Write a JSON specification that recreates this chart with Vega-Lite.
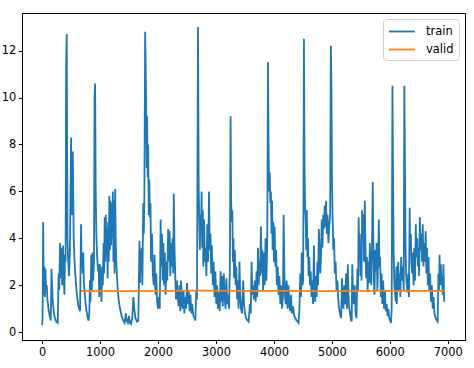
{
"$schema": "https://vega.github.io/schema/vega-lite/v6.json",
"autosize": "none",
"width": 443, "height": 327,
"padding": {"left": 22, "top": 13, "right": 9, "bottom": 28},
"background": "white",
"config": {
  "font": "DejaVu Sans",
  "view": {"stroke": "black", "strokeWidth": 1},
  "axis": {"grid": false, "domainColor": "black", "domainWidth": 1, "tickColor": "black", "tickSize": 3.6, "tickWidth": 1, "labelColor": "black", "labelFontSize": 11.4, "labelPadding": 2.6, "title": null, "labelFont": "DejaVu Sans"},
  "legend": {"labelFont": "DejaVu Sans"}
},
"data": {"values": [
{"step":0,"loss":0.3,"series":"train"},{"step":8,"loss":0.6,"series":"train"},{"step":18,"loss":4.7,"series":"train"},{"step":28,"loss":1.6,"series":"train"},{"step":38,"loss":2.8,"series":"train"},{"step":48,"loss":1.5,"series":"train"},{"step":58,"loss":2.7,"series":"train"},{"step":68,"loss":1.8,"series":"train"},{"step":80,"loss":2.0,"series":"train"},{"step":92,"loss":1.4,"series":"train"},{"step":110,"loss":1.0,"series":"train"},{"step":130,"loss":0.7,"series":"train"},{"step":150,"loss":0.5,"series":"train"},{"step":162,"loss":2.7,"series":"train"},{"step":172,"loss":2.0,"series":"train"},{"step":185,"loss":1.3,"series":"train"},{"step":200,"loss":0.9,"series":"train"},{"step":220,"loss":0.6,"series":"train"},{"step":245,"loss":0.45,"series":"train"},{"step":270,"loss":0.4,"series":"train"},{"step":285,"loss":2.5,"series":"train"},{"step":295,"loss":1.8,"series":"train"},{"step":310,"loss":3.8,"series":"train"},{"step":322,"loss":2.3,"series":"train"},{"step":335,"loss":3.6,"series":"train"},{"step":345,"loss":2.0,"series":"train"},{"step":360,"loss":3.7,"series":"train"},{"step":372,"loss":2.4,"series":"train"},{"step":385,"loss":1.6,"series":"train"},{"step":395,"loss":3.3,"series":"train"},{"step":405,"loss":3.0,"series":"train"},{"step":415,"loss":11.4,"series":"train"},{"step":425,"loss":12.7,"series":"train"},{"step":438,"loss":4.0,"series":"train"},{"step":450,"loss":3.0,"series":"train"},{"step":465,"loss":2.4,"series":"train"},{"step":480,"loss":3.5,"series":"train"},{"step":500,"loss":8.3,"series":"train"},{"step":512,"loss":5.0,"series":"train"},{"step":530,"loss":7.7,"series":"train"},{"step":545,"loss":4.0,"series":"train"},{"step":560,"loss":3.0,"series":"train"},{"step":580,"loss":2.2,"series":"train"},{"step":600,"loss":1.6,"series":"train"},{"step":620,"loss":1.2,"series":"train"},{"step":640,"loss":1.0,"series":"train"},{"step":655,"loss":0.9,"series":"train"},{"step":672,"loss":4.6,"series":"train"},{"step":682,"loss":2.8,"series":"train"},{"step":692,"loss":3.3,"series":"train"},{"step":700,"loss":2.5,"series":"train"},{"step":710,"loss":3.4,"series":"train"},{"step":720,"loss":2.2,"series":"train"},{"step":740,"loss":1.5,"series":"train"},{"step":760,"loss":1.0,"series":"train"},{"step":780,"loss":0.7,"series":"train"},{"step":800,"loss":0.5,"series":"train"},{"step":815,"loss":0.8,"series":"train"},{"step":825,"loss":2.2,"series":"train"},{"step":835,"loss":1.3,"series":"train"},{"step":848,"loss":3.3,"series":"train"},{"step":858,"loss":1.8,"series":"train"},{"step":870,"loss":3.4,"series":"train"},{"step":880,"loss":2.2,"series":"train"},{"step":895,"loss":3.0,"series":"train"},{"step":905,"loss":10.0,"series":"train"},{"step":915,"loss":10.6,"series":"train"},{"step":925,"loss":6.0,"series":"train"},{"step":935,"loss":4.2,"series":"train"},{"step":950,"loss":3.2,"series":"train"},{"step":965,"loss":2.6,"series":"train"},{"step":975,"loss":2.9,"series":"train"},{"step":985,"loss":1.5,"series":"train"},{"step":995,"loss":2.9,"series":"train"},{"step":1010,"loss":2.3,"series":"train"},{"step":1025,"loss":1.3,"series":"train"},{"step":1035,"loss":2.8,"series":"train"},{"step":1048,"loss":2.0,"series":"train"},{"step":1060,"loss":3.8,"series":"train"},{"step":1070,"loss":2.5,"series":"train"},{"step":1080,"loss":4.9,"series":"train"},{"step":1090,"loss":3.0,"series":"train"},{"step":1100,"loss":5.0,"series":"train"},{"step":1110,"loss":3.2,"series":"train"},{"step":1120,"loss":4.4,"series":"train"},{"step":1130,"loss":2.3,"series":"train"},{"step":1140,"loss":4.7,"series":"train"},{"step":1150,"loss":3.0,"series":"train"},{"step":1160,"loss":5.8,"series":"train"},{"step":1170,"loss":3.5,"series":"train"},{"step":1180,"loss":5.6,"series":"train"},{"step":1190,"loss":3.7,"series":"train"},{"step":1200,"loss":5.5,"series":"train"},{"step":1210,"loss":4.0,"series":"train"},{"step":1220,"loss":6.0,"series":"train"},{"step":1230,"loss":3.0,"series":"train"},{"step":1240,"loss":5.6,"series":"train"},{"step":1250,"loss":2.5,"series":"train"},{"step":1260,"loss":6.1,"series":"train"},{"step":1270,"loss":4.0,"series":"train"},{"step":1280,"loss":3.0,"series":"train"},{"step":1300,"loss":2.0,"series":"train"},{"step":1320,"loss":1.4,"series":"train"},{"step":1345,"loss":1.0,"series":"train"},{"step":1370,"loss":0.7,"series":"train"},{"step":1400,"loss":0.5,"series":"train"},{"step":1425,"loss":0.4,"series":"train"},{"step":1445,"loss":0.8,"series":"train"},{"step":1460,"loss":0.5,"series":"train"},{"step":1480,"loss":0.4,"series":"train"},{"step":1500,"loss":0.7,"series":"train"},{"step":1515,"loss":0.4,"series":"train"},{"step":1535,"loss":0.35,"series":"train"},{"step":1555,"loss":0.6,"series":"train"},{"step":1575,"loss":1.5,"series":"train"},{"step":1590,"loss":1.0,"series":"train"},{"step":1610,"loss":0.6,"series":"train"},{"step":1640,"loss":0.45,"series":"train"},{"step":1660,"loss":0.5,"series":"train"},{"step":1680,"loss":3.9,"series":"train"},{"step":1690,"loss":2.1,"series":"train"},{"step":1700,"loss":3.5,"series":"train"},{"step":1710,"loss":2.6,"series":"train"},{"step":1720,"loss":3.6,"series":"train"},{"step":1730,"loss":2.0,"series":"train"},{"step":1745,"loss":5.5,"series":"train"},{"step":1755,"loss":4.2,"series":"train"},{"step":1765,"loss":6.0,"series":"train"},{"step":1778,"loss":12.8,"series":"train"},{"step":1788,"loss":11.2,"series":"train"},{"step":1795,"loss":9.7,"series":"train"},{"step":1805,"loss":7.0,"series":"train"},{"step":1812,"loss":9.2,"series":"train"},{"step":1822,"loss":6.6,"series":"train"},{"step":1830,"loss":8.0,"series":"train"},{"step":1840,"loss":5.0,"series":"train"},{"step":1850,"loss":6.5,"series":"train"},{"step":1860,"loss":4.9,"series":"train"},{"step":1870,"loss":5.5,"series":"train"},{"step":1880,"loss":3.0,"series":"train"},{"step":1895,"loss":4.2,"series":"train"},{"step":1910,"loss":2.5,"series":"train"},{"step":1925,"loss":2.0,"series":"train"},{"step":1940,"loss":3.3,"series":"train"},{"step":1955,"loss":1.6,"series":"train"},{"step":1970,"loss":2.5,"series":"train"},{"step":1985,"loss":1.3,"series":"train"},{"step":2000,"loss":1.0,"series":"train"},{"step":2015,"loss":1.5,"series":"train"},{"step":2030,"loss":1.0,"series":"train"},{"step":2045,"loss":4.8,"series":"train"},{"step":2055,"loss":2.8,"series":"train"},{"step":2068,"loss":4.2,"series":"train"},{"step":2080,"loss":2.2,"series":"train"},{"step":2092,"loss":3.8,"series":"train"},{"step":2105,"loss":2.0,"series":"train"},{"step":2118,"loss":3.4,"series":"train"},{"step":2130,"loss":1.6,"series":"train"},{"step":2145,"loss":3.0,"series":"train"},{"step":2160,"loss":2.2,"series":"train"},{"step":2175,"loss":4.4,"series":"train"},{"step":2188,"loss":3.0,"series":"train"},{"step":2200,"loss":4.3,"series":"train"},{"step":2212,"loss":2.4,"series":"train"},{"step":2225,"loss":3.8,"series":"train"},{"step":2238,"loss":2.8,"series":"train"},{"step":2250,"loss":4.0,"series":"train"},{"step":2262,"loss":2.5,"series":"train"},{"step":2272,"loss":5.9,"series":"train"},{"step":2285,"loss":3.5,"series":"train"},{"step":2298,"loss":2.4,"series":"train"},{"step":2310,"loss":1.4,"series":"train"},{"step":2325,"loss":2.2,"series":"train"},{"step":2340,"loss":1.5,"series":"train"},{"step":2355,"loss":1.1,"series":"train"},{"step":2370,"loss":2.0,"series":"train"},{"step":2385,"loss":0.9,"series":"train"},{"step":2398,"loss":2.2,"series":"train"},{"step":2410,"loss":1.3,"series":"train"},{"step":2425,"loss":1.0,"series":"train"},{"step":2440,"loss":1.8,"series":"train"},{"step":2455,"loss":0.8,"series":"train"},{"step":2470,"loss":1.5,"series":"train"},{"step":2485,"loss":1.0,"series":"train"},{"step":2500,"loss":2.1,"series":"train"},{"step":2515,"loss":1.2,"series":"train"},{"step":2530,"loss":1.8,"series":"train"},{"step":2545,"loss":0.9,"series":"train"},{"step":2560,"loss":1.6,"series":"train"},{"step":2575,"loss":0.8,"series":"train"},{"step":2590,"loss":1.2,"series":"train"},{"step":2610,"loss":0.7,"series":"train"},{"step":2630,"loss":0.6,"series":"train"},{"step":2645,"loss":0.5,"series":"train"},{"step":2660,"loss":1.8,"series":"train"},{"step":2672,"loss":1.4,"series":"train"},{"step":2690,"loss":13.0,"series":"train"},{"step":2702,"loss":6.0,"series":"train"},{"step":2712,"loss":4.8,"series":"train"},{"step":2722,"loss":3.5,"series":"train"},{"step":2732,"loss":5.0,"series":"train"},{"step":2742,"loss":4.3,"series":"train"},{"step":2752,"loss":6.0,"series":"train"},{"step":2762,"loss":3.6,"series":"train"},{"step":2772,"loss":5.2,"series":"train"},{"step":2782,"loss":2.8,"series":"train"},{"step":2795,"loss":4.8,"series":"train"},{"step":2808,"loss":3.0,"series":"train"},{"step":2820,"loss":3.6,"series":"train"},{"step":2835,"loss":2.4,"series":"train"},{"step":2850,"loss":4.6,"series":"train"},{"step":2865,"loss":3.0,"series":"train"},{"step":2880,"loss":6.0,"series":"train"},{"step":2892,"loss":3.5,"series":"train"},{"step":2905,"loss":4.2,"series":"train"},{"step":2918,"loss":2.5,"series":"train"},{"step":2930,"loss":3.7,"series":"train"},{"step":2945,"loss":2.0,"series":"train"},{"step":2960,"loss":3.0,"series":"train"},{"step":2975,"loss":1.5,"series":"train"},{"step":2990,"loss":2.6,"series":"train"},{"step":3005,"loss":1.2,"series":"train"},{"step":3020,"loss":2.0,"series":"train"},{"step":3035,"loss":1.0,"series":"train"},{"step":3050,"loss":1.7,"series":"train"},{"step":3065,"loss":0.9,"series":"train"},{"step":3080,"loss":2.6,"series":"train"},{"step":3092,"loss":1.3,"series":"train"},{"step":3105,"loss":2.4,"series":"train"},{"step":3118,"loss":1.1,"series":"train"},{"step":3135,"loss":2.5,"series":"train"},{"step":3150,"loss":1.5,"series":"train"},{"step":3165,"loss":1.0,"series":"train"},{"step":3180,"loss":2.3,"series":"train"},{"step":3195,"loss":1.2,"series":"train"},{"step":3210,"loss":1.6,"series":"train"},{"step":3225,"loss":1.0,"series":"train"},{"step":3240,"loss":2.8,"series":"train"},{"step":3252,"loss":9.2,"series":"train"},{"step":3262,"loss":5.6,"series":"train"},{"step":3272,"loss":4.7,"series":"train"},{"step":3282,"loss":5.2,"series":"train"},{"step":3292,"loss":3.0,"series":"train"},{"step":3302,"loss":4.0,"series":"train"},{"step":3312,"loss":2.3,"series":"train"},{"step":3325,"loss":3.5,"series":"train"},{"step":3338,"loss":2.0,"series":"train"},{"step":3350,"loss":2.8,"series":"train"},{"step":3365,"loss":1.4,"series":"train"},{"step":3378,"loss":2.2,"series":"train"},{"step":3390,"loss":1.0,"series":"train"},{"step":3405,"loss":3.0,"series":"train"},{"step":3418,"loss":1.6,"series":"train"},{"step":3432,"loss":1.0,"series":"train"},{"step":3450,"loss":0.8,"series":"train"},{"step":3470,"loss":2.2,"series":"train"},{"step":3485,"loss":1.2,"series":"train"},{"step":3500,"loss":0.8,"series":"train"},{"step":3520,"loss":0.6,"series":"train"},{"step":3545,"loss":0.5,"series":"train"},{"step":3565,"loss":0.45,"series":"train"},{"step":3585,"loss":1.2,"series":"train"},{"step":3600,"loss":0.8,"series":"train"},{"step":3615,"loss":3.0,"series":"train"},{"step":3628,"loss":1.6,"series":"train"},{"step":3640,"loss":2.0,"series":"train"},{"step":3655,"loss":1.4,"series":"train"},{"step":3670,"loss":2.2,"series":"train"},{"step":3685,"loss":1.3,"series":"train"},{"step":3700,"loss":2.6,"series":"train"},{"step":3712,"loss":1.5,"series":"train"},{"step":3725,"loss":3.6,"series":"train"},{"step":3738,"loss":2.0,"series":"train"},{"step":3750,"loss":3.0,"series":"train"},{"step":3762,"loss":2.4,"series":"train"},{"step":3775,"loss":4.5,"series":"train"},{"step":3788,"loss":2.5,"series":"train"},{"step":3800,"loss":3.5,"series":"train"},{"step":3812,"loss":1.8,"series":"train"},{"step":3825,"loss":3.4,"series":"train"},{"step":3840,"loss":2.0,"series":"train"},{"step":3855,"loss":4.0,"series":"train"},{"step":3870,"loss":2.2,"series":"train"},{"step":3885,"loss":3.8,"series":"train"},{"step":3898,"loss":11.5,"series":"train"},{"step":3908,"loss":7.7,"series":"train"},{"step":3918,"loss":6.0,"series":"train"},{"step":3928,"loss":6.8,"series":"train"},{"step":3938,"loss":5.5,"series":"train"},{"step":3948,"loss":6.0,"series":"train"},{"step":3958,"loss":4.2,"series":"train"},{"step":3968,"loss":5.6,"series":"train"},{"step":3978,"loss":3.5,"series":"train"},{"step":3990,"loss":4.7,"series":"train"},{"step":4000,"loss":3.0,"series":"train"},{"step":4012,"loss":4.5,"series":"train"},{"step":4025,"loss":2.8,"series":"train"},{"step":4038,"loss":3.5,"series":"train"},{"step":4050,"loss":2.0,"series":"train"},{"step":4065,"loss":2.8,"series":"train"},{"step":4080,"loss":1.6,"series":"train"},{"step":4095,"loss":2.4,"series":"train"},{"step":4110,"loss":1.2,"series":"train"},{"step":4125,"loss":2.0,"series":"train"},{"step":4140,"loss":1.0,"series":"train"},{"step":4155,"loss":1.5,"series":"train"},{"step":4168,"loss":5.0,"series":"train"},{"step":4180,"loss":2.6,"series":"train"},{"step":4192,"loss":1.5,"series":"train"},{"step":4205,"loss":1.2,"series":"train"},{"step":4220,"loss":2.2,"series":"train"},{"step":4235,"loss":1.0,"series":"train"},{"step":4250,"loss":2.0,"series":"train"},{"step":4265,"loss":1.2,"series":"train"},{"step":4280,"loss":0.9,"series":"train"},{"step":4295,"loss":1.6,"series":"train"},{"step":4310,"loss":0.8,"series":"train"},{"step":4330,"loss":1.1,"series":"train"},{"step":4350,"loss":0.7,"series":"train"},{"step":4370,"loss":0.6,"series":"train"},{"step":4390,"loss":0.5,"series":"train"},{"step":4410,"loss":0.45,"series":"train"},{"step":4425,"loss":0.4,"series":"train"},{"step":4440,"loss":1.0,"series":"train"},{"step":4455,"loss":2.5,"series":"train"},{"step":4468,"loss":1.5,"series":"train"},{"step":4480,"loss":3.4,"series":"train"},{"step":4492,"loss":2.0,"series":"train"},{"step":4505,"loss":2.2,"series":"train"},{"step":4518,"loss":12.5,"series":"train"},{"step":4528,"loss":7.0,"series":"train"},{"step":4538,"loss":5.3,"series":"train"},{"step":4548,"loss":4.8,"series":"train"},{"step":4558,"loss":3.5,"series":"train"},{"step":4568,"loss":5.2,"series":"train"},{"step":4578,"loss":3.2,"series":"train"},{"step":4588,"loss":4.0,"series":"train"},{"step":4598,"loss":2.4,"series":"train"},{"step":4610,"loss":3.2,"series":"train"},{"step":4622,"loss":2.0,"series":"train"},{"step":4635,"loss":2.6,"series":"train"},{"step":4648,"loss":1.5,"series":"train"},{"step":4660,"loss":2.2,"series":"train"},{"step":4675,"loss":1.2,"series":"train"},{"step":4690,"loss":3.7,"series":"train"},{"step":4700,"loss":1.8,"series":"train"},{"step":4712,"loss":1.3,"series":"train"},{"step":4725,"loss":2.4,"series":"train"},{"step":4738,"loss":1.5,"series":"train"},{"step":4750,"loss":3.0,"series":"train"},{"step":4762,"loss":2.0,"series":"train"},{"step":4775,"loss":4.4,"series":"train"},{"step":4788,"loss":3.5,"series":"train"},{"step":4800,"loss":2.5,"series":"train"},{"step":4812,"loss":3.2,"series":"train"},{"step":4825,"loss":4.8,"series":"train"},{"step":4838,"loss":3.6,"series":"train"},{"step":4850,"loss":5.0,"series":"train"},{"step":4862,"loss":4.4,"series":"train"},{"step":4875,"loss":5.4,"series":"train"},{"step":4888,"loss":4.5,"series":"train"},{"step":4900,"loss":5.6,"series":"train"},{"step":4912,"loss":4.2,"series":"train"},{"step":4925,"loss":5.0,"series":"train"},{"step":4940,"loss":3.8,"series":"train"},{"step":4955,"loss":4.5,"series":"train"},{"step":4970,"loss":5.0,"series":"train"},{"step":4982,"loss":12.2,"series":"train"},{"step":4992,"loss":10.5,"series":"train"},{"step":5002,"loss":6.5,"series":"train"},{"step":5012,"loss":5.0,"series":"train"},{"step":5025,"loss":3.5,"series":"train"},{"step":5038,"loss":4.0,"series":"train"},{"step":5050,"loss":2.5,"series":"train"},{"step":5065,"loss":3.0,"series":"train"},{"step":5080,"loss":1.8,"series":"train"},{"step":5095,"loss":2.2,"series":"train"},{"step":5110,"loss":1.4,"series":"train"},{"step":5125,"loss":1.0,"series":"train"},{"step":5140,"loss":0.8,"series":"train"},{"step":5160,"loss":0.6,"series":"train"},{"step":5175,"loss":2.3,"series":"train"},{"step":5188,"loss":1.3,"series":"train"},{"step":5200,"loss":1.0,"series":"train"},{"step":5215,"loss":2.0,"series":"train"},{"step":5230,"loss":1.2,"series":"train"},{"step":5245,"loss":2.5,"series":"train"},{"step":5260,"loss":1.0,"series":"train"},{"step":5275,"loss":2.9,"series":"train"},{"step":5288,"loss":1.5,"series":"train"},{"step":5300,"loss":1.0,"series":"train"},{"step":5315,"loss":0.8,"series":"train"},{"step":5330,"loss":0.5,"series":"train"},{"step":5342,"loss":0.5,"series":"train"},{"step":5352,"loss":2.9,"series":"train"},{"step":5365,"loss":1.6,"series":"train"},{"step":5380,"loss":1.2,"series":"train"},{"step":5395,"loss":2.0,"series":"train"},{"step":5410,"loss":0.8,"series":"train"},{"step":5425,"loss":0.6,"series":"train"},{"step":5440,"loss":2.7,"series":"train"},{"step":5452,"loss":1.8,"series":"train"},{"step":5462,"loss":4.9,"series":"train"},{"step":5472,"loss":3.2,"series":"train"},{"step":5482,"loss":4.2,"series":"train"},{"step":5492,"loss":2.4,"series":"train"},{"step":5502,"loss":3.5,"series":"train"},{"step":5512,"loss":2.2,"series":"train"},{"step":5522,"loss":5.2,"series":"train"},{"step":5532,"loss":4.0,"series":"train"},{"step":5545,"loss":5.0,"series":"train"},{"step":5555,"loss":3.0,"series":"train"},{"step":5568,"loss":5.6,"series":"train"},{"step":5580,"loss":3.5,"series":"train"},{"step":5592,"loss":2.3,"series":"train"},{"step":5605,"loss":3.2,"series":"train"},{"step":5618,"loss":1.7,"series":"train"},{"step":5630,"loss":3.0,"series":"train"},{"step":5642,"loss":2.1,"series":"train"},{"step":5655,"loss":3.8,"series":"train"},{"step":5668,"loss":2.4,"series":"train"},{"step":5680,"loss":2.0,"series":"train"},{"step":5692,"loss":3.6,"series":"train"},{"step":5705,"loss":6.4,"series":"train"},{"step":5715,"loss":4.0,"series":"train"},{"step":5725,"loss":2.2,"series":"train"},{"step":5735,"loss":1.6,"series":"train"},{"step":5748,"loss":3.5,"series":"train"},{"step":5760,"loss":2.6,"series":"train"},{"step":5772,"loss":3.8,"series":"train"},{"step":5785,"loss":1.8,"series":"train"},{"step":5798,"loss":3.0,"series":"train"},{"step":5810,"loss":4.8,"series":"train"},{"step":5820,"loss":2.8,"series":"train"},{"step":5832,"loss":3.2,"series":"train"},{"step":5845,"loss":1.5,"series":"train"},{"step":5858,"loss":2.5,"series":"train"},{"step":5870,"loss":1.2,"series":"train"},{"step":5885,"loss":2.2,"series":"train"},{"step":5900,"loss":1.0,"series":"train"},{"step":5915,"loss":1.8,"series":"train"},{"step":5930,"loss":0.9,"series":"train"},{"step":5945,"loss":1.2,"series":"train"},{"step":5960,"loss":0.7,"series":"train"},{"step":5975,"loss":1.0,"series":"train"},{"step":5990,"loss":0.6,"series":"train"},{"step":6005,"loss":0.5,"series":"train"},{"step":6020,"loss":0.4,"series":"train"},{"step":6032,"loss":1.0,"series":"train"},{"step":6045,"loss":10.5,"series":"train"},{"step":6055,"loss":7.0,"series":"train"},{"step":6065,"loss":3.5,"series":"train"},{"step":6078,"loss":2.0,"series":"train"},{"step":6090,"loss":1.7,"series":"train"},{"step":6102,"loss":1.3,"series":"train"},{"step":6112,"loss":2.8,"series":"train"},{"step":6120,"loss":1.2,"series":"train"},{"step":6132,"loss":2.4,"series":"train"},{"step":6145,"loss":3.0,"series":"train"},{"step":6158,"loss":1.8,"series":"train"},{"step":6170,"loss":2.5,"series":"train"},{"step":6182,"loss":1.5,"series":"train"},{"step":6195,"loss":3.2,"series":"train"},{"step":6210,"loss":2.2,"series":"train"},{"step":6225,"loss":2.8,"series":"train"},{"step":6240,"loss":1.8,"series":"train"},{"step":6250,"loss":10.5,"series":"train"},{"step":6260,"loss":7.5,"series":"train"},{"step":6270,"loss":4.0,"series":"train"},{"step":6280,"loss":2.5,"series":"train"},{"step":6292,"loss":2.0,"series":"train"},{"step":6305,"loss":1.7,"series":"train"},{"step":6318,"loss":2.5,"series":"train"},{"step":6330,"loss":1.5,"series":"train"},{"step":6342,"loss":5.3,"series":"train"},{"step":6352,"loss":3.5,"series":"train"},{"step":6362,"loss":4.2,"series":"train"},{"step":6372,"loss":3.0,"series":"train"},{"step":6385,"loss":2.5,"series":"train"},{"step":6398,"loss":3.4,"series":"train"},{"step":6410,"loss":2.0,"series":"train"},{"step":6422,"loss":3.6,"series":"train"},{"step":6435,"loss":2.2,"series":"train"},{"step":6448,"loss":4.6,"series":"train"},{"step":6460,"loss":3.2,"series":"train"},{"step":6472,"loss":4.0,"series":"train"},{"step":6485,"loss":2.8,"series":"train"},{"step":6495,"loss":3.6,"series":"train"},{"step":6505,"loss":2.4,"series":"train"},{"step":6518,"loss":4.9,"series":"train"},{"step":6530,"loss":3.5,"series":"train"},{"step":6542,"loss":4.2,"series":"train"},{"step":6555,"loss":3.0,"series":"train"},{"step":6568,"loss":4.6,"series":"train"},{"step":6580,"loss":2.8,"series":"train"},{"step":6592,"loss":3.8,"series":"train"},{"step":6605,"loss":3.0,"series":"train"},{"step":6618,"loss":4.3,"series":"train"},{"step":6630,"loss":2.5,"series":"train"},{"step":6642,"loss":3.6,"series":"train"},{"step":6655,"loss":2.0,"series":"train"},{"step":6668,"loss":3.2,"series":"train"},{"step":6680,"loss":1.8,"series":"train"},{"step":6695,"loss":2.5,"series":"train"},{"step":6710,"loss":1.3,"series":"train"},{"step":6725,"loss":2.0,"series":"train"},{"step":6740,"loss":1.0,"series":"train"},{"step":6755,"loss":1.5,"series":"train"},{"step":6770,"loss":0.8,"series":"train"},{"step":6790,"loss":0.6,"series":"train"},{"step":6810,"loss":0.5,"series":"train"},{"step":6825,"loss":0.45,"series":"train"},{"step":6838,"loss":2.5,"series":"train"},{"step":6848,"loss":1.8,"series":"train"},{"step":6858,"loss":3.3,"series":"train"},{"step":6868,"loss":2.0,"series":"train"},{"step":6880,"loss":2.9,"series":"train"},{"step":6890,"loss":2.0,"series":"train"},{"step":6900,"loss":2.4,"series":"train"},{"step":6912,"loss":1.6,"series":"train"},{"step":6925,"loss":2.9,"series":"train"},{"step":6938,"loss":1.3,"series":"train"},
{"step":670,"loss":1.76,"series":"valid"},{"step":1380,"loss":1.75,"series":"valid"},{"step":2070,"loss":1.76,"series":"valid"},{"step":2760,"loss":1.77,"series":"valid"},{"step":3450,"loss":1.76,"series":"valid"},{"step":4140,"loss":1.76,"series":"valid"},{"step":4830,"loss":1.75,"series":"valid"},{"step":5520,"loss":1.76,"series":"valid"},{"step":6210,"loss":1.76,"series":"valid"},{"step":6945,"loss":1.76,"series":"valid"}
]},
"mark": {"type": "line", "strokeWidth": 1.8, "clip": true},
"encoding": {
  "x": {"field": "step", "type": "quantitative", "scale": {"domain": [-347, 7297], "nice": false, "zero": false}, "axis": {"values": [0,1000,2000,3000,4000,5000,6000,7000], "format": "d"}},
  "y": {"field": "loss", "type": "quantitative", "scale": {"domain": [-0.33, 13.6], "nice": false, "zero": false}, "axis": {"values": [0,2,4,6,8,10,12], "format": "d"}},
  "color": {"field": "series", "type": "nominal", "scale": {"domain": ["train","valid"], "range": ["#1f77b4","#ff7f0e"]},
    "legend": {"title": null, "orient": "top-right", "offset": 6, "symbolType": "M-1,0H3", "symbolSize": 169, "symbolStrokeWidth": 1.8, "labelFontSize": 11.5, "labelColor": "black", "fillColor": "white", "strokeColor": "#d0d0d0", "cornerRadius": 3, "padding": 5, "rowPadding": 5, "labelOffset": 23}}
}
}
